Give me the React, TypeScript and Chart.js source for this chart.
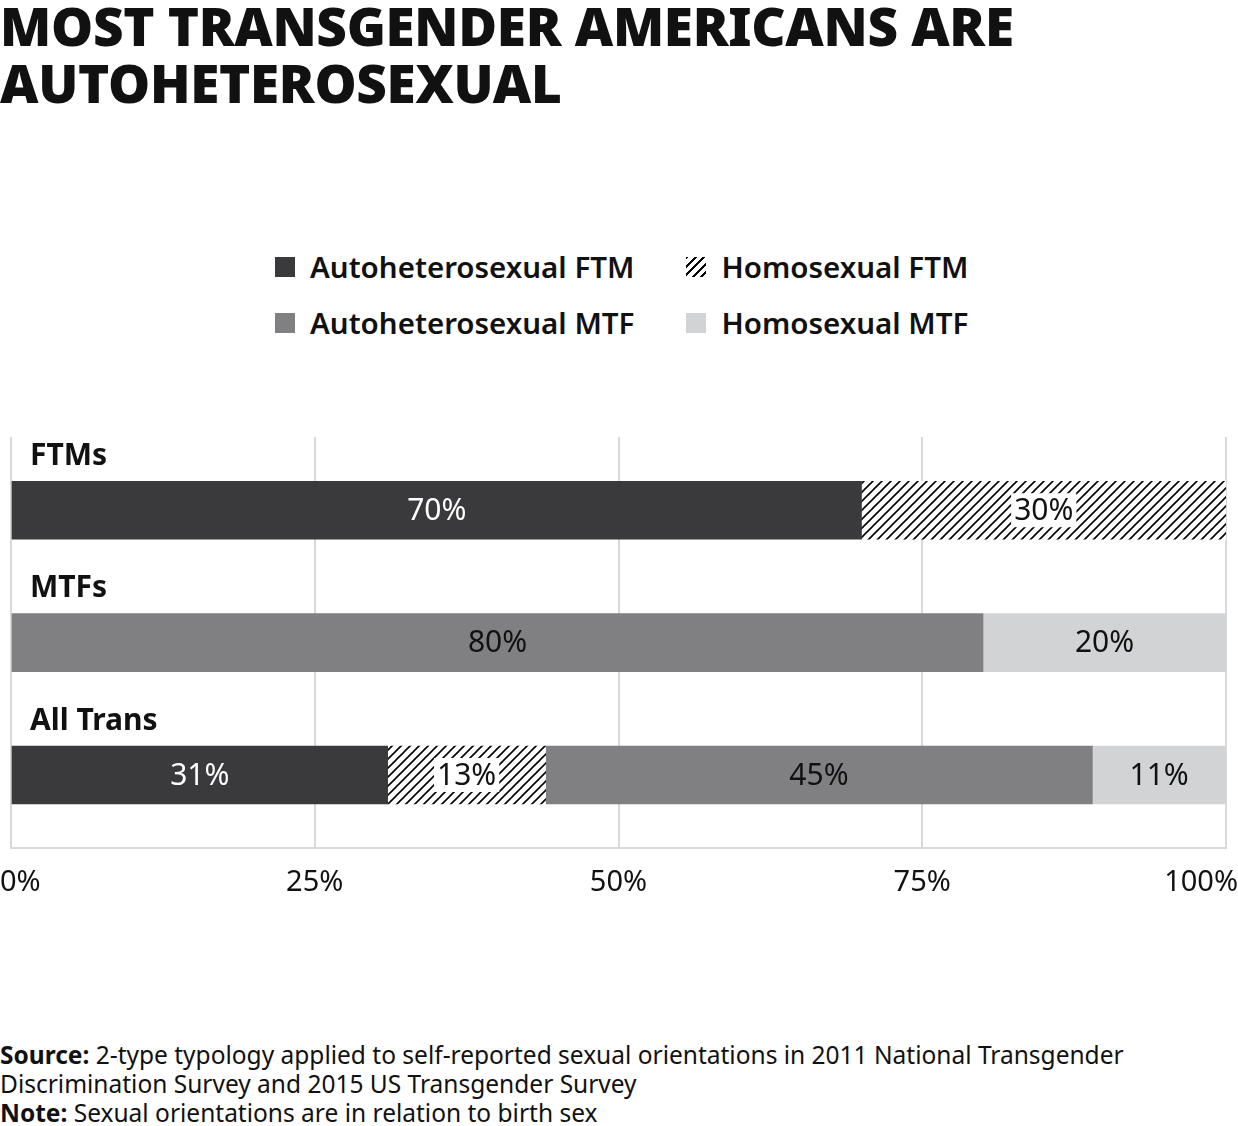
import * as React from 'react';
import {useRef, useEffect} from 'react';
import {Chart, registerables} from 'chart.js';

Chart.register(...registerables);

const categories = ['FTMs', 'MTFs', 'All Trans'];
const seriesNames = ['Autoheterosexual FTM', 'Homosexual FTM', 'Autoheterosexual MTF', 'Homosexual MTF'];
const autoFtm = [70, null, 31];
const homoFtm = [30, null, 13];
const autoMtf = [null, 80, 45];
const homoMtf = [null, 20, 11];
const xTickValues = [0, 25, 50, 75, 100];

const FONT = '"Noto Sans", sans-serif';
const DARK = '#3a3a3c';
const MID = '#808083';
const LIGHT = '#d2d3d5';

function makeHatch(): CanvasPattern | string {
  const c = document.createElement('canvas');
  const s = 9;
  c.width = s;
  c.height = s;
  const ctx = c.getContext('2d');
  if (!ctx) return '#ffffff';
  ctx.fillStyle = '#ffffff';
  ctx.fillRect(0, 0, s, s);
  ctx.strokeStyle = '#000000';
  ctx.lineWidth = 1.6;
  ctx.beginPath();
  ctx.moveTo(-1, s + 1);
  ctx.lineTo(s + 1, -1);
  ctx.moveTo(-2, 2);
  ctx.lineTo(2, -2);
  ctx.moveTo(s - 2, s + 2);
  ctx.lineTo(s + 2, s - 2);
  ctx.stroke();
  return ctx.createPattern(c, 'repeat') || '#ffffff';
}

// bars are placed on a linear index axis so the band spacing can match the original
const toPoints = (vals: Array<number | null>) => vals.map((x, y) => ({x, y}));

const categoryLabels = {
  id: 'categoryLabels',
  afterDatasetsDraw(chart: any) {
    const {ctx, chartArea} = chart;
    const yScale = chart.scales.y;
    ctx.save();
    ctx.font = `bold 30px ${FONT}`;
    ctx.fillStyle = '#111111';
    ctx.textAlign = 'left';
    ctx.textBaseline = 'middle';
    categories.forEach((name, i) => {
      ctx.fillText(name, chartArea.left + 19, yScale.getPixelForValue(i) - 54);
    });
    ctx.restore();
  },
};

// x tick labels centred on their tick but kept inside the canvas
const xLabels = {
  id: 'xLabels',
  afterDraw(chart: any) {
    const {ctx, chartArea, width} = chart;
    const xScale = chart.scales.x;
    ctx.save();
    ctx.font = `29px ${FONT}`;
    ctx.fillStyle = '#111111';
    ctx.textAlign = 'left';
    ctx.textBaseline = 'middle';
    xTickValues.forEach((v) => {
      const text = `${v}%`;
      const w = ctx.measureText(text).width;
      const px = xScale.getPixelForValue(v);
      const left = Math.min(Math.max(px - w / 2, 0), width - w);
      ctx.fillText(text, left, chartArea.bottom + 35);
    });
    ctx.restore();
  },
};

const valueLabels = {
  id: 'valueLabels',
  afterDatasetsDraw(chart: any) {
    const {ctx} = chart;
    ctx.save();
    ctx.font = `30px ${FONT}`;
    ctx.textAlign = 'center';
    ctx.textBaseline = 'middle';
    chart.data.datasets.forEach((ds: any, di: number) => {
      const meta = chart.getDatasetMeta(di);
      meta.data.forEach((bar: any, i: number) => {
        const v = ds.data[i].x;
        if (v === null || v === undefined) return;
        const {x, base, y} = bar.getProps(['x', 'base', 'y'], true);
        const cx = (x + base) / 2;
        const text = `${v}%`;
        if (di === 1) {
          const w = ctx.measureText(text).width;
          ctx.fillStyle = '#ffffff';
          ctx.fillRect(cx - w / 2 - 3, y - 17, w + 6, 34);
        }
        ctx.fillStyle = di === 0 ? '#ffffff' : '#111111';
        ctx.fillText(text, cx, y + 1);
      });
    });
    ctx.restore();
  },
};

function BarChart(): JSX.Element {
  const canvasRef = useRef<HTMLCanvasElement>(null);

  useEffect(() => {
    if (!canvasRef.current) return;
    const hatch = makeHatch();
    const chart = new Chart(canvasRef.current, {
      type: 'bar',
      data: {
        datasets: [
          {label: seriesNames[0], data: toPoints(autoFtm), backgroundColor: DARK},
          {label: seriesNames[1], data: toPoints(homoFtm), backgroundColor: hatch as any},
          {label: seriesNames[2], data: toPoints(autoMtf), backgroundColor: MID},
          {label: seriesNames[3], data: toPoints(homoMtf), backgroundColor: LIGHT},
        ],
      },
      options: {
        indexAxis: 'y',
        responsive: false,
        animation: false,
        devicePixelRatio: 1,
        layout: {padding: {top: 37, left: 11, right: 12, bottom: 0}},
        datasets: {bar: {barThickness: 58, borderWidth: 0}},
        plugins: {
          legend: {display: false},
          tooltip: {enabled: false},
          title: {display: false},
        },
        scales: {
          x: {
            type: 'linear',
            stacked: true,
            min: 0,
            max: 100,
            afterBuildTicks: (scale: any) => {
              scale.ticks = xTickValues.map((value) => ({value}));
            },
            afterFit: (scale: any) => {
              scale.paddingLeft = 0;
              scale.paddingRight = 0;
            },
            grid: {color: '#d9d9d9', lineWidth: 2, drawTicks: false},
            border: {color: '#d9d9d9', width: 2},
            ticks: {
              padding: 18,
              color: 'rgba(0,0,0,0)',
              font: {family: FONT, size: 29},
              callback: (v: any) => `${v}%`,
            },
          },
          y: {
            type: 'linear',
            stacked: true,
            reverse: true,
            offset: false,
            min: -0.553,
            max: 2.553,
            display: false,
          },
        },
      },
      plugins: [categoryLabels, valueLabels, xLabels],
    } as any);
    return () => {
      chart.destroy();
    };
  }, []);

  return <canvas ref={canvasRef} width={1238} height={519} />;
}

function Swatch({kind}: {kind: number}): JSX.Element {
  const bg = [DARK, 'repeating-linear-gradient(135deg, #000 0 2px, #fff 2px 6px)', MID, LIGHT][kind];
  return <span style={{display: 'inline-block', width: 20, height: 20, background: bg, marginRight: 15}} />;
}

export default function App(): JSX.Element {
  return (
    <div style={{position: 'absolute', left: 0, top: 0, width: 1238, height: 1126, background: '#fff', fontFamily: FONT, color: '#111'}}>
      <div style={{position: 'absolute', left: 0, top: -3, fontSize: 53, lineHeight: '57px', fontWeight: 900, letterSpacing: '-0.3px', whiteSpace: 'nowrap'}}>
        MOST TRANSGENDER AMERICANS ARE<br />AUTOHETEROSEXUAL
      </div>
      <div style={{position: 'absolute', left: 275, top: 250, display: 'grid', gridTemplateColumns: 'auto auto', columnGap: 52, rowGap: 22, fontSize: 29.5, fontWeight: 600, lineHeight: '34px'}}>
        {seriesNames.map((n, i) => (
          <div key={n} style={{display: 'flex', alignItems: 'center', whiteSpace: 'nowrap'}}>
            <Swatch kind={i} />{n}
          </div>
        ))}
      </div>
      <div style={{position: 'absolute', left: 0, top: 400}}>
        <BarChart />
      </div>
      <div style={{position: 'absolute', left: 0, top: 1040, fontSize: 24.5, lineHeight: '29px', whiteSpace: 'nowrap'}}>
        <b>Source:</b> 2-type typology applied to self-reported sexual orientations in 2011 National Transgender<br />
        Discrimination Survey and 2015 US Transgender Survey<br />
        <b>Note:</b> Sexual orientations are in relation to birth sex
      </div>
    </div>
  );
}
